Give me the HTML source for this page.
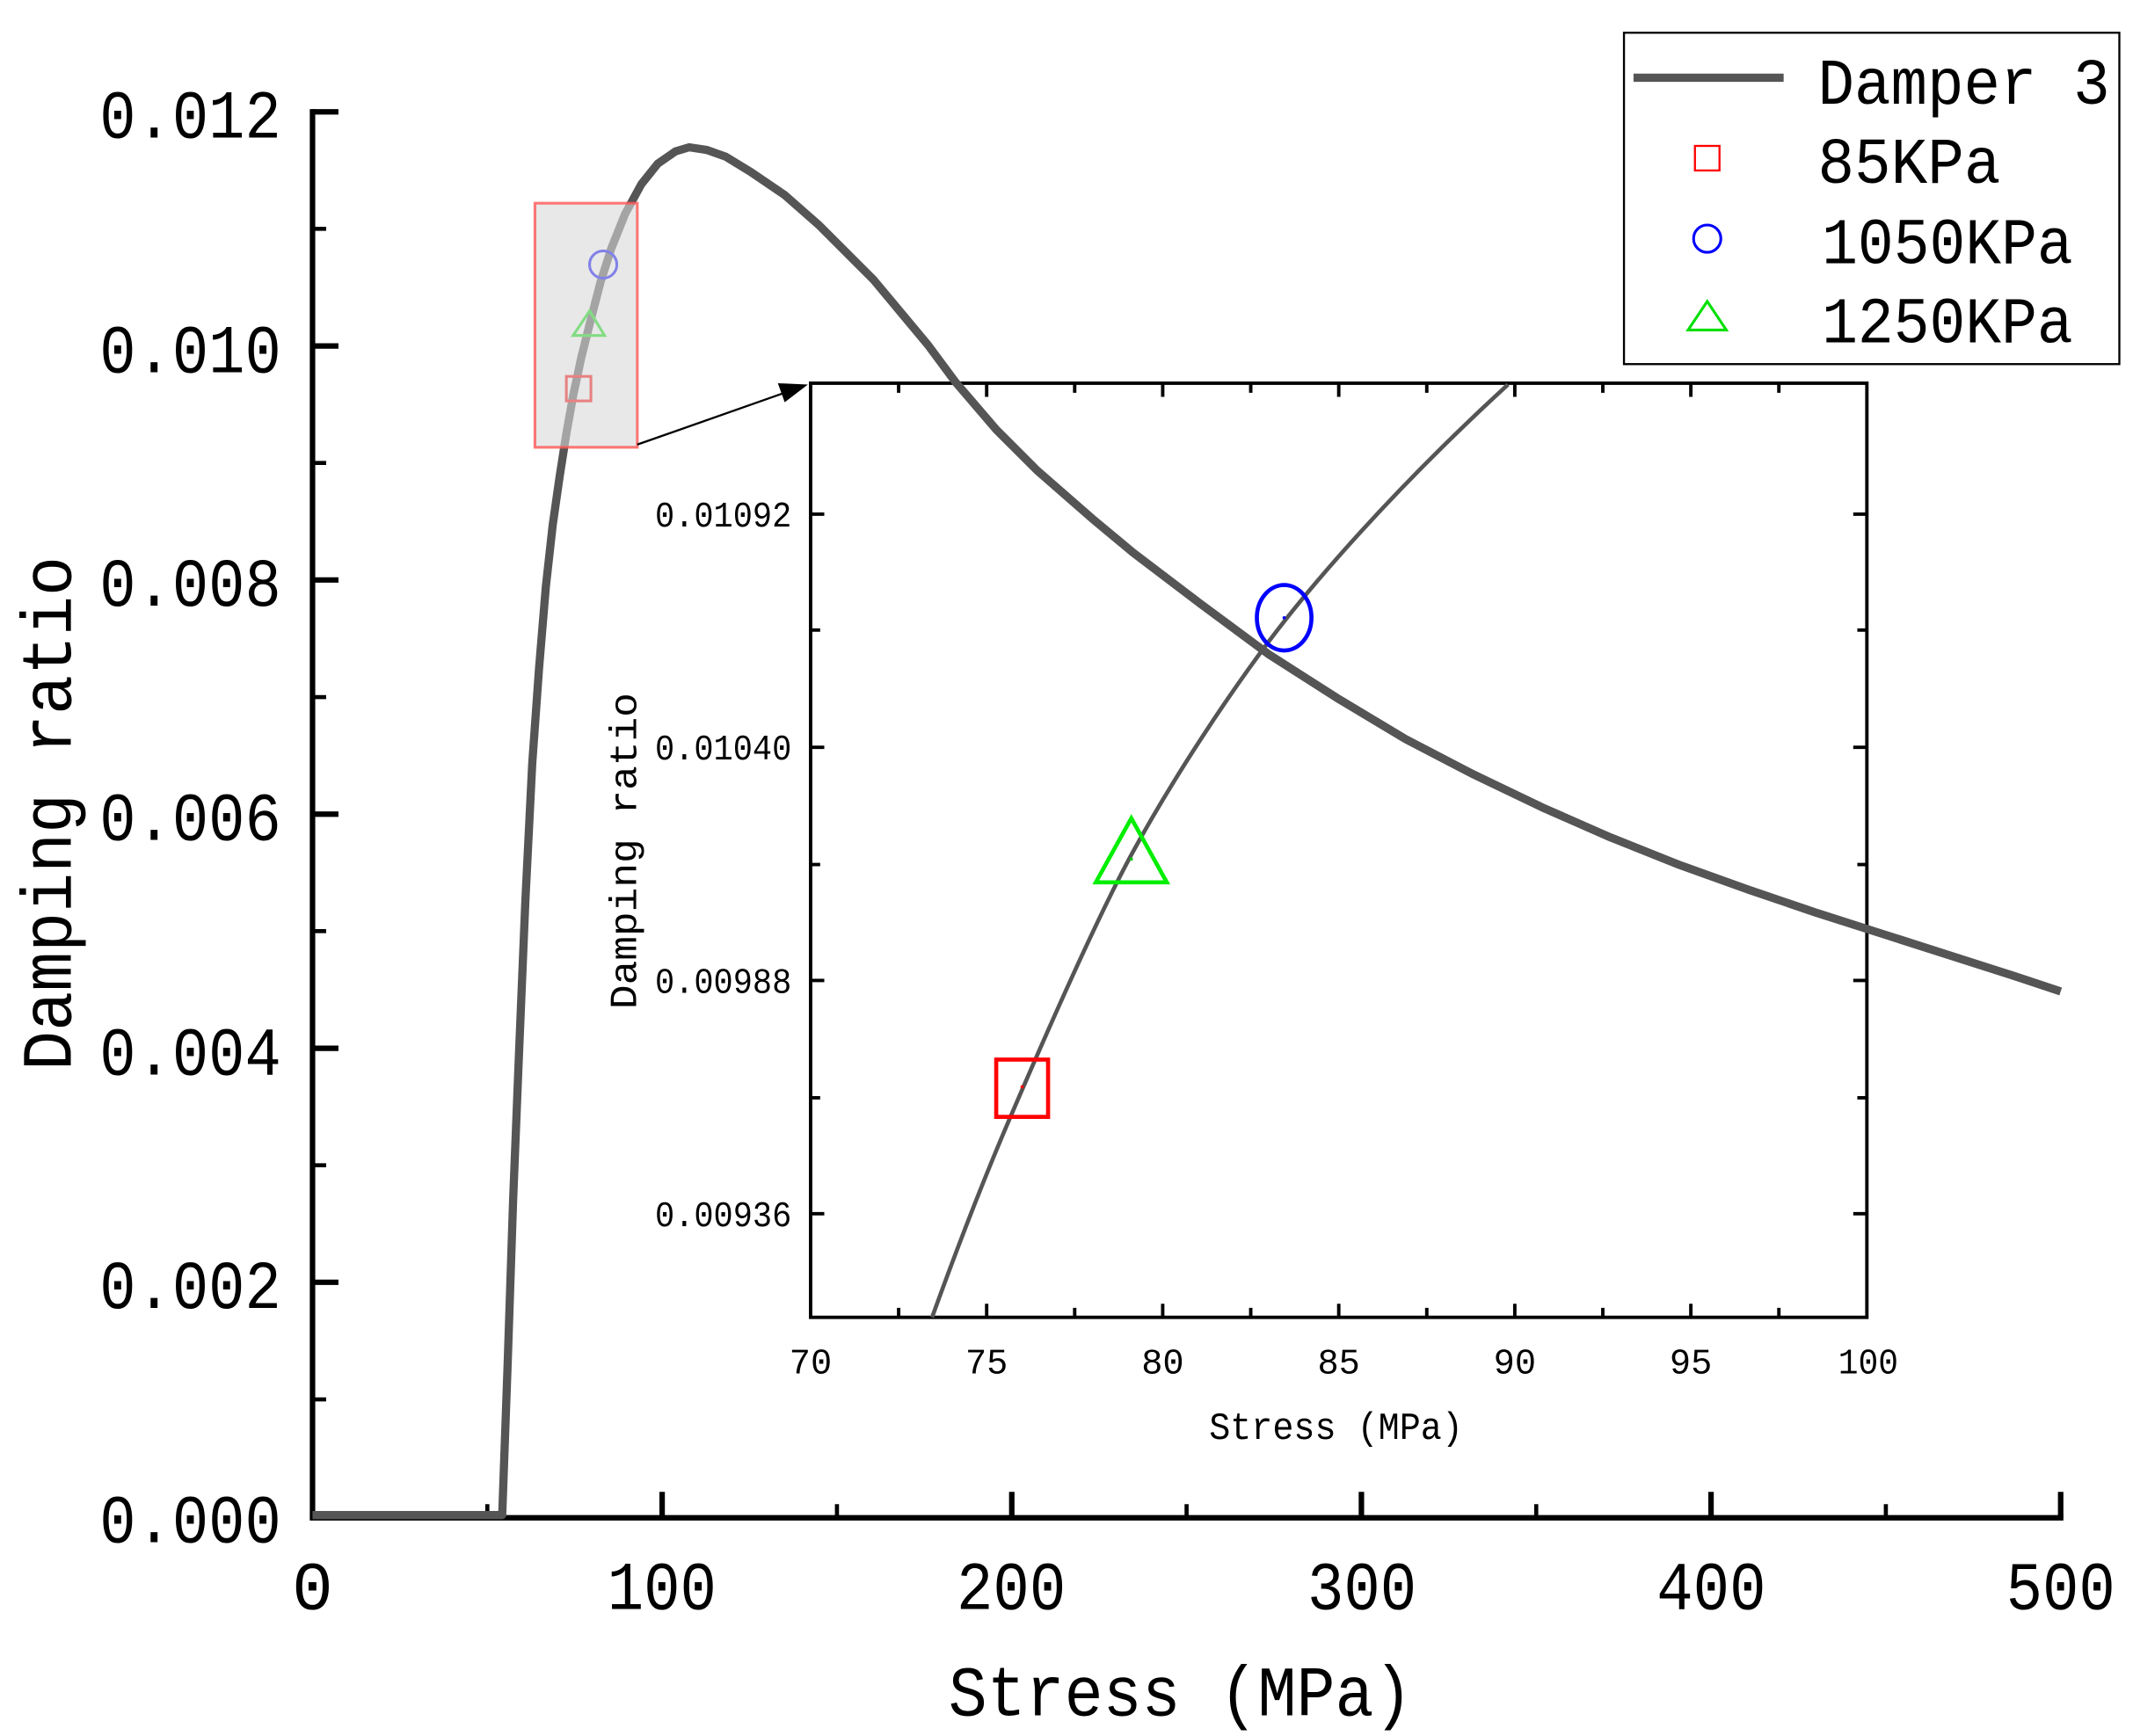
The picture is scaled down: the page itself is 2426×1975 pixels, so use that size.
<!DOCTYPE html>
<html><head><meta charset="utf-8"><style>html,body{margin:0;padding:0;background:#fff}svg{display:block}</style></head>
<body>
<svg width="2426" height="1975" viewBox="0 0 1563 1273" preserveAspectRatio="none" xmlns="http://www.w3.org/2000/svg" font-family="'Liberation Mono','Noto Serif CJK SC',monospace">
<rect width="1563" height="1273" fill="#fff"/>
<g stroke="#000" stroke-width="4" fill="none">
<path d="M229,80 V1113 H1512"/>
<path d="M229,82h19M229,253.7h19M229,425.3h19M229,597h19M229,768.7h19M229,940.3h19" />
<path d="M229,167.8h10M229,339.5h10M229,511.2h10M229,682.8h10M229,854.5h10M229,1026.2h10" stroke-width="3"/>
<path d="M485.2,1112v-18M741.4,1112v-18M997.6,1112v-18M1253.8,1112v-18M1510,1112v-18"/>
<path d="M357.1,1112v-9M613.3,1112v-9M869.5,1112v-9M1125.7,1112v-9M1381.9,1112v-9" stroke-width="3"/>
</g>
<g font-size="50" fill="#000">
<text x="73" y="101" textLength="133" lengthAdjust="spacingAndGlyphs">0.012</text>
<text x="73" y="273" textLength="133" lengthAdjust="spacingAndGlyphs">0.010</text>
<text x="73" y="444" textLength="133" lengthAdjust="spacingAndGlyphs">0.008</text>
<text x="73" y="616" textLength="133" lengthAdjust="spacingAndGlyphs">0.006</text>
<text x="73" y="788" textLength="133" lengthAdjust="spacingAndGlyphs">0.004</text>
<text x="73" y="959" textLength="133" lengthAdjust="spacingAndGlyphs">0.002</text>
<text x="73" y="1131" textLength="133" lengthAdjust="spacingAndGlyphs">0.000</text>
<text x="229" y="1180" text-anchor="middle">0</text>
<text x="485" y="1180" text-anchor="middle" textLength="80" lengthAdjust="spacingAndGlyphs">100</text>
<text x="741" y="1180" text-anchor="middle" textLength="80" lengthAdjust="spacingAndGlyphs">200</text>
<text x="998" y="1180" text-anchor="middle" textLength="80" lengthAdjust="spacingAndGlyphs">300</text>
<text x="1254" y="1180" text-anchor="middle" textLength="80" lengthAdjust="spacingAndGlyphs">400</text>
<text x="1510" y="1180" text-anchor="middle" textLength="80" lengthAdjust="spacingAndGlyphs">500</text>
<text x="695" y="1258" font-size="52" textLength="340" lengthAdjust="spacingAndGlyphs">Stress (MPa)</text>
<text transform="translate(52,785) rotate(-90)" font-size="52" textLength="377" lengthAdjust="spacingAndGlyphs">Damping ratio</text>
</g>
<g stroke="#000" stroke-width="2.5" fill="none">
<rect x="594" y="281" width="774" height="685"/>
<path d="M594,377h10M594,548h10M594,719h10M594,890h10M594,462h7M594,634h7M594,805h7"/>
<path d="M1368,377h-10M1368,548h-10M1368,719h-10M1368,890h-10M1368,462h-7M1368,634h-7M1368,805h-7"/>
<path d="M723,966v-10M852,966v-10M981,966v-10M1110,966v-10M1239,966v-10M658.5,966v-7M787.5,966v-7M916.5,966v-7M1045.5,966v-7M1174.5,966v-7M1303.5,966v-7"/>
<path d="M723,281v10M852,281v10M981,281v10M1110,281v10M1239,281v10M658.5,281v7M787.5,281v7M916.5,281v7M1045.5,281v7M1174.5,281v7M1303.5,281v7"/>
</g>
<g font-size="26" fill="#000">
<text x="480" y="386" textLength="100" lengthAdjust="spacingAndGlyphs">0.01092</text>
<text x="480" y="557" textLength="100" lengthAdjust="spacingAndGlyphs">0.01040</text>
<text x="480" y="728" textLength="100" lengthAdjust="spacingAndGlyphs">0.00988</text>
<text x="480" y="899" textLength="100" lengthAdjust="spacingAndGlyphs">0.00936</text>
<text x="594" y="1007" text-anchor="middle">70</text>
<text x="723" y="1007" text-anchor="middle">75</text>
<text x="852" y="1007" text-anchor="middle">80</text>
<text x="981" y="1007" text-anchor="middle">85</text>
<text x="1110" y="1007" text-anchor="middle">90</text>
<text x="1239" y="1007" text-anchor="middle">95</text>
<text x="1369" y="1007" text-anchor="middle" textLength="44" lengthAdjust="spacingAndGlyphs">100</text>
<text x="886" y="1055" font-size="28" textLength="186" lengthAdjust="spacingAndGlyphs">Stress (MPa)</text>
<text transform="translate(466,740) rotate(-90)" font-size="28" textLength="232" lengthAdjust="spacingAndGlyphs">Damping ratio</text>
</g>
<path d="M683,966 C705,905 725,855 740,820 S800,680 830,625 S900,510 930,470 S1020,360 1105,282" fill="none" stroke="#555" stroke-width="3"/>
<polyline points="229,1111 368,1111 372,1000 376,880 380,780 385,660 390,560 395,490 400,430 405,385 410,350 415,318 420,290 426,262 432,238 440,207 448,182 458,157 470,135 482,120 495,111 505,108 518,110 532,115 550,126 575,143 600,165 640,205 680,253 700,280 730,315 760,345 800,380 830,405 880,443 930,480 980,512 1030,542 1080,568 1130,592 1180,614 1230,634 1280,652 1330,669 1380,685 1430,701 1480,717 1510,727" fill="none" stroke="#555" stroke-width="6" stroke-linejoin="round"/>
<rect x="415" y="276" width="18" height="18" fill="none" stroke="red" stroke-width="2"/>
<circle cx="442" cy="194" r="10" fill="none" stroke="blue" stroke-width="2"/>
<path d="M432,228 L443,246 L420,246 Z" fill="none" stroke="#00e000" stroke-width="2"/>
<rect x="392" y="149" width="75" height="179" fill="#d8d8d8" fill-opacity="0.6" stroke="#f55" stroke-opacity="0.8" stroke-width="2"/>
<line x1="467" y1="326" x2="575" y2="288" stroke="#000" stroke-width="1.5"/>
<path d="M592,282 L570,281 L575,295 Z" fill="#000"/>
<rect x="730" y="777" width="38" height="42" fill="none" stroke="red" stroke-width="3"/>
<circle cx="749" cy="797" r="1.2" fill="red"/>
<ellipse cx="941" cy="453" rx="20" ry="24" fill="none" stroke="blue" stroke-width="3"/>
<circle cx="941" cy="453" r="1.2" fill="blue"/>
<path d="M829,600 L855,647 L803,647 Z" fill="none" stroke="#00ee00" stroke-width="3"/>
<circle cx="829" cy="630" r="1.2" fill="#0c0"/>
<rect x="1190" y="24" width="363" height="243" fill="#fff" stroke="#000" stroke-width="1.5"/>
<line x1="1197" y1="57" x2="1307" y2="57" stroke="#555" stroke-width="6"/>
<rect x="1242" y="107" width="18" height="18" fill="none" stroke="red" stroke-width="1.5"/>
<circle cx="1251" cy="175" r="10" fill="none" stroke="blue" stroke-width="2"/>
<path d="M1251,221 L1265,242 L1237,242 Z" fill="none" stroke="#00e000" stroke-width="2"/>
<g font-size="48" fill="#000">
<text x="1332" y="76" textLength="214" lengthAdjust="spacingAndGlyphs">Damper 3</text>
<text x="1332" y="134" textLength="134" lengthAdjust="spacingAndGlyphs">85KPa</text>
<text x="1335" y="193" textLength="184" lengthAdjust="spacingAndGlyphs">1050KPa</text>
<text x="1335" y="251" textLength="184" lengthAdjust="spacingAndGlyphs">1250KPa</text>
</g>
</svg>
</body></html>
